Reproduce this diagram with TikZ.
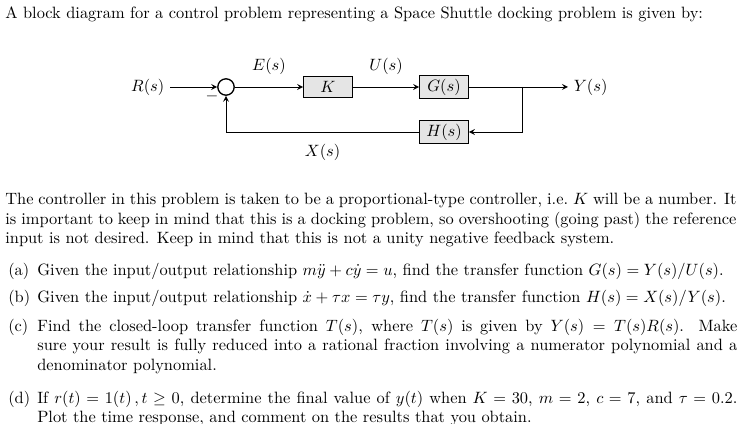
\documentclass[tikz,border=0pt]{standalone}
\usepackage{amsmath}
\begin{document}
\begin{tikzpicture}[x=0.61pt,y=-0.61pt,
  blk/.style={draw,fill=gray!20,minimum height=13pt,minimum width=30pt,inner sep=2pt},
  sig/.style={->,>=stealth,semithick},
  para/.style={anchor=north west,align=justify,inner sep=0pt,font=\fontsize{10}{11.8}\selectfont},
  lbl/.style={anchor=north west,inner sep=0pt}]
\useasboundingbox (0,0) rectangle (747,424);
\node[lbl] (intro) at (5,6) {A block diagram for a control problem representing a Space Shuttle docking problem is given by:};
% diagram
\node[anchor=east] (R) at (170,87) {$R(s)$};
\node[draw,circle,minimum size=10pt,inner sep=0pt,thick] (sum) at (226,87) {};
\node[blk] (K) at (328,87) {$K$};
\node[blk] (G) at (444,87) {$G(s)$};
\node[blk] (H) at (444,132) {$H(s)$};
\node[anchor=west] (Y) at (568,87) {$Y(s)$};
\coordinate (br) at (522,87);
\draw[sig] (R) -- (sum);
\draw[sig] (sum) -- node[above=4pt] (E) {$E(s)$} (K);
\draw[sig] (K) -- node[above=4pt] (U) {$U(s)$} (G);
\draw[sig] (G) -- (Y);
\draw[sig] (br) |- (H);
\draw[sig] (H) -| node[pos=0.25,below=4pt] (X) {$X(s)$} (sum);
\node (minus) at (212,96) {$-$};
% text
\node[para,text width=446pt] (p) at (5,193) {The controller in this problem is taken to be a proportional-type controller, i.e.\ $K$ will be a number. It is important to keep in mind that this is a docking problem, so overshooting (going past) the reference input is not desired. Keep in mind that this is not a unity negative feedback system.};
\node[lbl] (la) at (8,263) {(a)};
\node[para,text width=427pt] (a) at (37,263) {Given the input/output relationship $m\ddot{y}+c\dot{y}=u$, find the transfer function $G(s)=Y(s)/U(s)$.};
\node[lbl] (lb) at (8,290) {(b)};
\node[para,text width=427pt] (b) at (37,290) {Given the input/output relationship $\dot{x}+\tau x=\tau y$, find the transfer function $H(s)=X(s)/Y(s)$.};
\node[lbl] (lc) at (8,319) {(c)};
\node[para,text width=427pt] (c) at (37,319) {Find the closed-loop transfer function $T(s)$, where $T(s)$ is given by $Y(s)=T(s)R(s)$. Make sure your result is fully reduced into a rational fraction involving a numerator polynomial and a denominator polynomial.};
\node[lbl] (ld) at (8,391) {(d)};
\node[para,text width=427pt] (d) at (37,391) {If $r(t)=1(t)\,,t\geq 0$, determine the final value of $y(t)$ when $K=30$, $m=2$, $c=7$, and $\tau=0.2$. Plot the time response, and comment on the results that you obtain.};
\end{tikzpicture}
\end{document}
